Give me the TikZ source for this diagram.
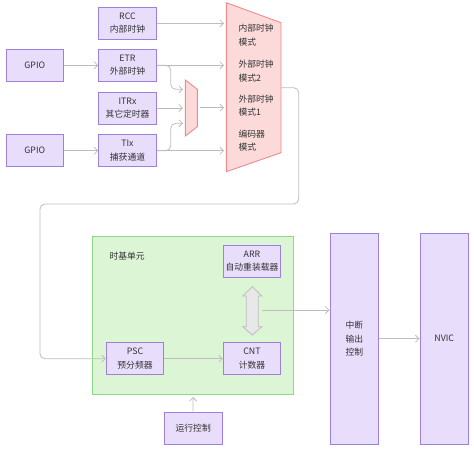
\documentclass[tikz,border=0pt]{standalone}
\usepackage{fontspec}
\newfontfamily\cjk{Noto Sans CJK SC}
\usetikzlibrary{arrows.meta}
\definecolor{boxfill}{HTML}{E8DEFB}
\definecolor{boxline}{HTML}{9E80DE}
\definecolor{basefill}{HTML}{DCF5D5}
\definecolor{baseline}{HTML}{8ED889}
\definecolor{muxfill}{HTML}{FCDADA}
\definecolor{muxline}{HTML}{F08A8A}
\definecolor{wire}{HTML}{BDBDBD}
\definecolor{txt}{HTML}{333333}
\begin{document}
\begin{tikzpicture}[x=1pt,y=-1pt,
  font=\cjk\fontsize{8.8}{13.3}\selectfont, text=txt,
  blk/.style={draw=boxline, fill=boxfill, line width=0.9pt, minimum width=57.6pt, minimum height=32pt, align=center, inner sep=0pt},
  tall/.style={blk, minimum width=48.7pt, minimum height=210.7pt},
  wr/.style={draw=wire, line width=0.8pt, -{Straight Barb[length=3.5pt,width=7pt]}},
  rw/.style={wr, rounded corners=5pt}]

\useasboundingbox (0,0) rectangle (474,453);

\node (base) [draw=baseline, fill=basefill, line width=0.9pt, minimum width=201.4pt, minimum height=157.3pt, inner sep=0pt] at (193,315.3) {};
\node at (106,255.7) [anchor=west] {时基单元};

\draw [draw=muxline, fill=muxfill, line width=0.9pt] (226.3,2.7) -- (281,22.7) -- (281,152.7) -- (226.3,171.7) -- cycle;
\draw [draw=muxline, fill=muxfill, line width=0.9pt] (185.3,80) -- (197.3,89.3) -- (197.3,126.7) -- (185.3,136) -- cycle;
\coordinate (mux) at (224,0);
\coordinate (muxo) at (281,87.7);
\coordinate (smux) at (183,0);
\coordinate (smuxo) at (200,107.7);

\node at (235,35) [anchor=west, align=left] {内部时钟\\模式};
\node at (235,71) [anchor=west, align=left] {外部时钟\\模式2};
\node at (235,105.8) [anchor=west, align=left] {外部时钟\\模式1};
\node at (235,140.7) [anchor=west, align=left] {编码器\\模式};

\node (rcc) [blk] at (127.5,23.3) {RCC\\内部时钟};
\node (gpioa) [blk] at (34.8,65.3) {GPIO};
\node (etr) [blk] at (127.5,65.3) {ETR\\外部时钟};
\node (itr) [blk] at (127.5,108) {ITRx\\其它定时器};
\node (gpiob) [blk] at (34.8,150.7) {GPIO};
\node (tix) [blk] at (127.5,150.7) {TIx\\捕获通道};

\node (arr) [blk] at (252,261.3) {ARR\\自动重装载器};
\node (psc) [blk] at (135,358.7) {PSC\\预分频器};
\node (cnt) [blk] at (252,358.7) {CNT\\计数器};
\node (run) [blk, minimum width=58.3pt] at (193.2,428) {运行控制};
\node (irq) [tall] at (354.3,338.7) {中断\\输出\\控制};
\node (nvic) [tall] at (444.3,338.7) {NVIC};

\draw [wr] (rcc.east) -- (rcc.east -| mux);
\draw [wr] (gpioa) -- (etr);
\draw [wr] (etr.east) -- (etr.east -| mux);
\draw [rw] (etr.east) -- ++(14,0) |- (smux |- 0,89.3);
\draw [wr] (itr.east) -- (itr.east -| smux);
\draw [wr] (smuxo) -- (smuxo -| mux);
\draw [wr] (gpiob) -- (tix);
\draw [wr] (tix.east) -- (tix.east -| mux);
\draw [rw] (tix.east) -- ++(14,0) |- (smux |- 0,123.3);

\draw [rw] (muxo) -- (298.7,87.7) -- (298.7,204) -- (40,204) |- (psc.west);
\draw [wr] (psc) -- (cnt);
\draw [wr] (run) -- (base.south |- 0,397);
\draw [wr] (irq) -- (nvic);

\draw [draw=wire, fill=black!9, line width=0.8pt] (252.3,286.7) -- (261.8,296) -- (258.3,296) -- (258.3,326.7) -- (261.8,326.7) -- (252.3,335) -- (242.8,326.7) -- (246.3,326.7) -- (246.3,296) -- (242.8,296) -- cycle;
\coordinate (link) at (262,310);
\draw [wr] (link) -- (link -| irq.west);

\end{tikzpicture}
\end{document}
